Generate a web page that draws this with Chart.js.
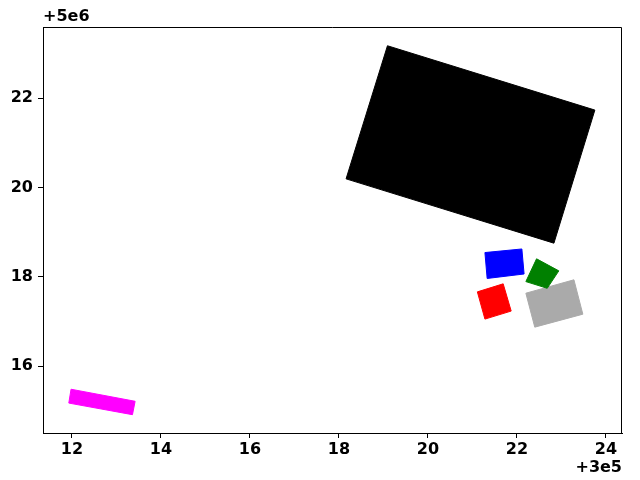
<!DOCTYPE html>
<html>
<head>
<meta charset="utf-8">
<script src="https://cdn.jsdelivr.net/npm/chart.js@4"></script>
<style>
  html, body { margin: 0; padding: 0; background: #fff; }
  #wrap { width: 640px; height: 480px; }
</style>
</head>
<body>
<div id="wrap"><canvas id="chart" width="640" height="480"></canvas></div>
<script>
// offsets shown as "+3e5" / "+5e6" like matplotlib does
const xOffset = 3e5;
const yOffset = 5e6;

// polygon corners, relative to the offsets
const blackX = [19.09, 23.75, 22.83, 18.16];
const blackY = [23.17, 21.73, 18.75, 20.19];
const blueX = [21.28, 22.11, 22.16, 21.33];
const blueY = [18.54, 18.62, 18.06, 17.96];
const greenX = [22.44, 22.94, 22.68, 22.20];
const greenY = [18.40, 18.13, 17.74, 17.89];
const redX = [21.11, 21.69, 21.87, 21.28];
const redY = [17.66, 17.84, 17.23, 17.05];
const grayX = [22.20, 23.28, 23.48, 22.40];
const grayY = [17.63, 17.93, 17.16, 16.87];
const magentaX = [11.98, 13.42, 13.36, 11.93];
const magentaY = [15.48, 15.21, 14.91, 15.17];

const xTicks = [12, 14, 16, 18, 20, 22, 24];
const yTicks = [16, 18, 20, 22];

function shape(xs, ys, color) {
  const pts = xs.map((x, i) => ({ x: x, y: ys[i] }));
  pts.push(pts[0]);
  return {
    data: pts,
    showLine: true,
    fill: 'shape',
    backgroundColor: color,
    borderColor: color,
    borderWidth: 1,
    pointRadius: 0,
    tension: 0
  };
}

const offsetText = {
  id: 'offsetText',
  afterDraw(chart) {
    const ctx = chart.ctx;
    const a = chart.chartArea;
    ctx.save();
    ctx.fillStyle = '#000';
    ctx.font = 'bold 16px "DejaVu Sans"';
    ctx.textBaseline = 'middle';
    ctx.textAlign = 'left';
    ctx.fillText('+' + (yOffset / 1e6) + 'e6', a.left, 17);
    ctx.textAlign = 'right';
    ctx.fillText('+' + (xOffset / 1e5) + 'e5', a.right, 468);
    // top and right spines
    ctx.strokeStyle = '#000';
    ctx.lineWidth = 1;
    ctx.beginPath();
    ctx.moveTo(a.left, a.top + 0.5);
    ctx.lineTo(a.right - 0.5, a.top + 0.5);
    ctx.lineTo(a.right - 0.5, a.bottom);
    ctx.stroke();
    ctx.restore();
  }
};

const tickFont = { family: 'DejaVu Sans', size: 16, weight: 'bold' };

new Chart(document.getElementById('chart').getContext('2d'), {
  type: 'scatter',
  data: {
    datasets: [
      shape(blackX, blackY, '#000000'),
      shape(blueX, blueY, '#0000ff'),
      shape(greenX, greenY, '#008000'),
      shape(redX, redY, '#ff0000'),
      shape(grayX, grayY, '#aaaaaa'),
      shape(magentaX, magentaY, '#ff00ff')
    ]
  },
  options: {
    responsive: false,
    animation: false,
    layout: { padding: { top: 27, right: 18, left: 0, bottom: 0 } },
    plugins: { legend: { display: false }, tooltip: { enabled: false } },
    scales: {
      x: {
        type: 'linear',
        min: 11.35,
        max: 24.36,
        afterBuildTicks: axis => { axis.ticks = xTicks.map(v => ({ value: v })); },
        afterFit: axis => { axis.height = 47; },
        ticks: { color: '#000', font: tickFont, padding: 2, maxRotation: 0 },
        grid: { drawOnChartArea: false, color: '#000', tickLength: 5, tickWidth: 1 },
        border: { color: '#000', width: 1 }
      },
      y: {
        type: 'linear',
        min: 14.50,
        max: 23.59,
        afterBuildTicks: axis => { axis.ticks = yTicks.map(v => ({ value: v })); },
        afterFit: axis => { axis.width = 43; },
        ticks: { color: '#000', font: tickFont, padding: 5 },
        grid: { drawOnChartArea: false, color: '#000', tickLength: 5, tickWidth: 1 },
        border: { color: '#000', width: 1 }
      }
    }
  },
  plugins: [offsetText]
});
</script>
</body>
</html>
